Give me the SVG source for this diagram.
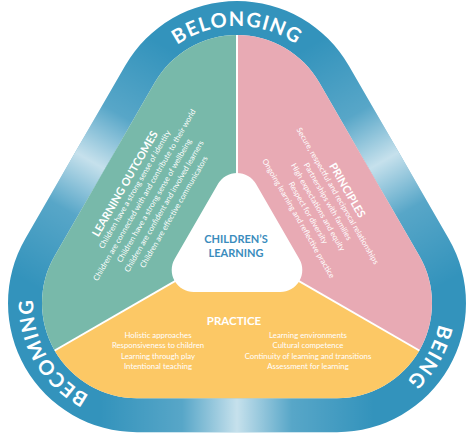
<svg xmlns="http://www.w3.org/2000/svg" width="474" height="439" viewBox="0 0 474 439">
<defs>
<style>
.t{font-family:Lato,"Open Sans","Liberation Sans",sans-serif;fill:#fff}
.ring{font-size:20px;font-weight:700;letter-spacing:1.2px}
.hd{font-size:11px;font-weight:700;text-anchor:middle}
.ln{font-size:7.8px;text-anchor:middle}
.ctr{font-family:Lato,"Open Sans","Liberation Sans",sans-serif;font-size:11px;font-weight:700;fill:#3a8cbd;text-anchor:middle}
.div{stroke:#fff;stroke-width:2;fill:none}
</style>
<linearGradient id="hl" x1="0" y1="0" x2="1" y2="0">
<stop offset="0" stop-color="#fff" stop-opacity="0"/>
<stop offset="0.3" stop-color="#fff" stop-opacity="0.18"/>
<stop offset="0.5" stop-color="#fff" stop-opacity="0.72"/>
<stop offset="0.7" stop-color="#fff" stop-opacity="0.18"/>
<stop offset="1" stop-color="#fff" stop-opacity="0"/>
</linearGradient>
<path id="inner" d="M154.73,82.5 A95,95 0 0 1 319.27,82.5 L419.27,255.7 A95,95 0 0 1 337,398.2 L137,398.2 A95,95 0 0 1 54.73,255.7 Z"/>
<clipPath id="innerClip"><use href="#inner"/></clipPath>
<clipPath id="bandClip"><path clip-rule="evenodd" d="M125.3,65.5 A129,129 0 0 1 348.7,65.5 L448.7,238.7 A129,129 0 0 1 337,432.2 L137,432.2 A129,129 0 0 1 25.3,238.7 Z M154.73,82.5 A95,95 0 0 1 319.27,82.5 L419.27,255.7 A95,95 0 0 1 337,398.2 L137,398.2 A95,95 0 0 1 54.73,255.7 Z"/></clipPath>
<path id="pTop" d="M133,130 A104,104 0 0 1 341,130"/>
<path id="pLeft" d="M185.83,395.02 A104,104 0 0 1 81.89,215.01"/>
<path id="pRight" d="M392.11,215.01 A104,104 0 0 1 288.17,395.02"/>
</defs>

<g id="ring">
<path fill="#3393bc" fill-rule="evenodd" d="M125.3,65.5 A129,129 0 0 1 348.7,65.5 L448.7,238.7 A129,129 0 0 1 337,432.2 L137,432.2 A129,129 0 0 1 25.3,238.7 Z M154.73,82.5 A95,95 0 0 1 319.27,82.5 L419.27,255.7 A95,95 0 0 1 337,398.2 L137,398.2 A95,95 0 0 1 54.73,255.7 Z"/>
<g clip-path="url(#bandClip)">
<rect x="-137" y="-25" width="274" height="50" fill="url(#hl)" transform="translate(237,415.2)"/>
<rect x="-137" y="-25" width="274" height="50" fill="url(#hl)" transform="translate(90,160.6) rotate(-60)"/>
<rect x="-137" y="-25" width="274" height="50" fill="url(#hl)" transform="translate(384,160.6) rotate(60)"/>
</g>
<text class="t ring"><textPath href="#pTop" startOffset="50%" text-anchor="middle">BELONGING</textPath></text>
<text class="t ring"><textPath href="#pLeft" startOffset="50%" text-anchor="middle">BECOMING</textPath></text>
<text class="t ring"><textPath href="#pRight" startOffset="50%" text-anchor="middle">BEING</textPath></text>
</g>

<g id="sections" clip-path="url(#innerClip)">
<polygon id="learning-outcomes-bg" fill="#78b9aa" points="237,245.3 237,0 0,0 0,382.1"/>
<polygon id="principles-bg" fill="#e8aab4" points="237,245.3 237,0 474,0 474,382.1"/>
<polygon id="practice-bg" fill="#fcc865" points="237,245.3 0,382.1 0,439 474,439 474,382.1"/>
</g>

<g id="connectors">
<line class="div" x1="237" y1="245.3" x2="237" y2="35"/>
<line class="div" x1="237" y1="245.3" x2="54.73" y2="350.5"/>
<line class="div" x1="237" y1="245.3" x2="419.27" y2="350.5"/>
</g>

<g id="learning-outcomes" transform="translate(149.3,197.8) rotate(-60)">
<text class="t hd" x="0" y="-24.3">LEARNING OUTCOMES</text>
<text class="t ln" x="0" y="-14.2">Children have a strong sense of identity</text>
<text class="t ln" x="0" y="-2.95">Children are connected with and contribute to their world</text>
<text class="t ln" x="0" y="8.35">Children have a strong sense of wellbeing</text>
<text class="t ln" x="0" y="19.65">Children are confident and involved learners</text>
<text class="t ln" x="0" y="30.95">Children are effective communicators</text>
</g>

<g id="principles" transform="translate(323,204.3) rotate(60)">
<text class="t hd" x="0" y="-24.3">PRINCIPLES</text>
<text class="t ln" x="0" y="-14.2">Secure, respectful and reciprocal relationships</text>
<text class="t ln" x="0" y="-2.95">Partnerships with families</text>
<text class="t ln" x="0" y="8.35">High expectations and equity</text>
<text class="t ln" x="0" y="19.65">Respect for diversity</text>
<text class="t ln" x="0" y="30.95">Ongoing learning and reflective practice</text>
</g>

<g id="practice">
<text class="t hd" x="234" y="324.8" style="font-size:11.5px">PRACTICE</text>
<text class="t ln" x="158" y="337.9">Holistic approaches</text>
<text class="t ln" x="158" y="348.2">Responsiveness to children</text>
<text class="t ln" x="158" y="358.5">Learning through play</text>
<text class="t ln" x="158" y="368.8">Intentional teaching</text>
<text class="t ln" x="308" y="337.9">Learning environments</text>
<text class="t ln" x="308" y="348.2">Cultural competence</text>
<text class="t ln" x="308" y="358.5">Continuity of learning and transitions</text>
<text class="t ln" x="308" y="368.8">Assessment for learning</text>
</g>

<g id="childrens-learning">
<path fill="#fff" d="M217.95,184 A22,22 0 0 1 256.05,184 L299.35,259 A22,22 0 0 1 280.3,292 L193.7,292 A22,22 0 0 1 174.65,259 Z"/>
<text class="ctr" x="236" y="243">CHILDREN’S</text>
<text class="ctr" x="236" y="257">LEARNING</text>
</g>
</svg>
